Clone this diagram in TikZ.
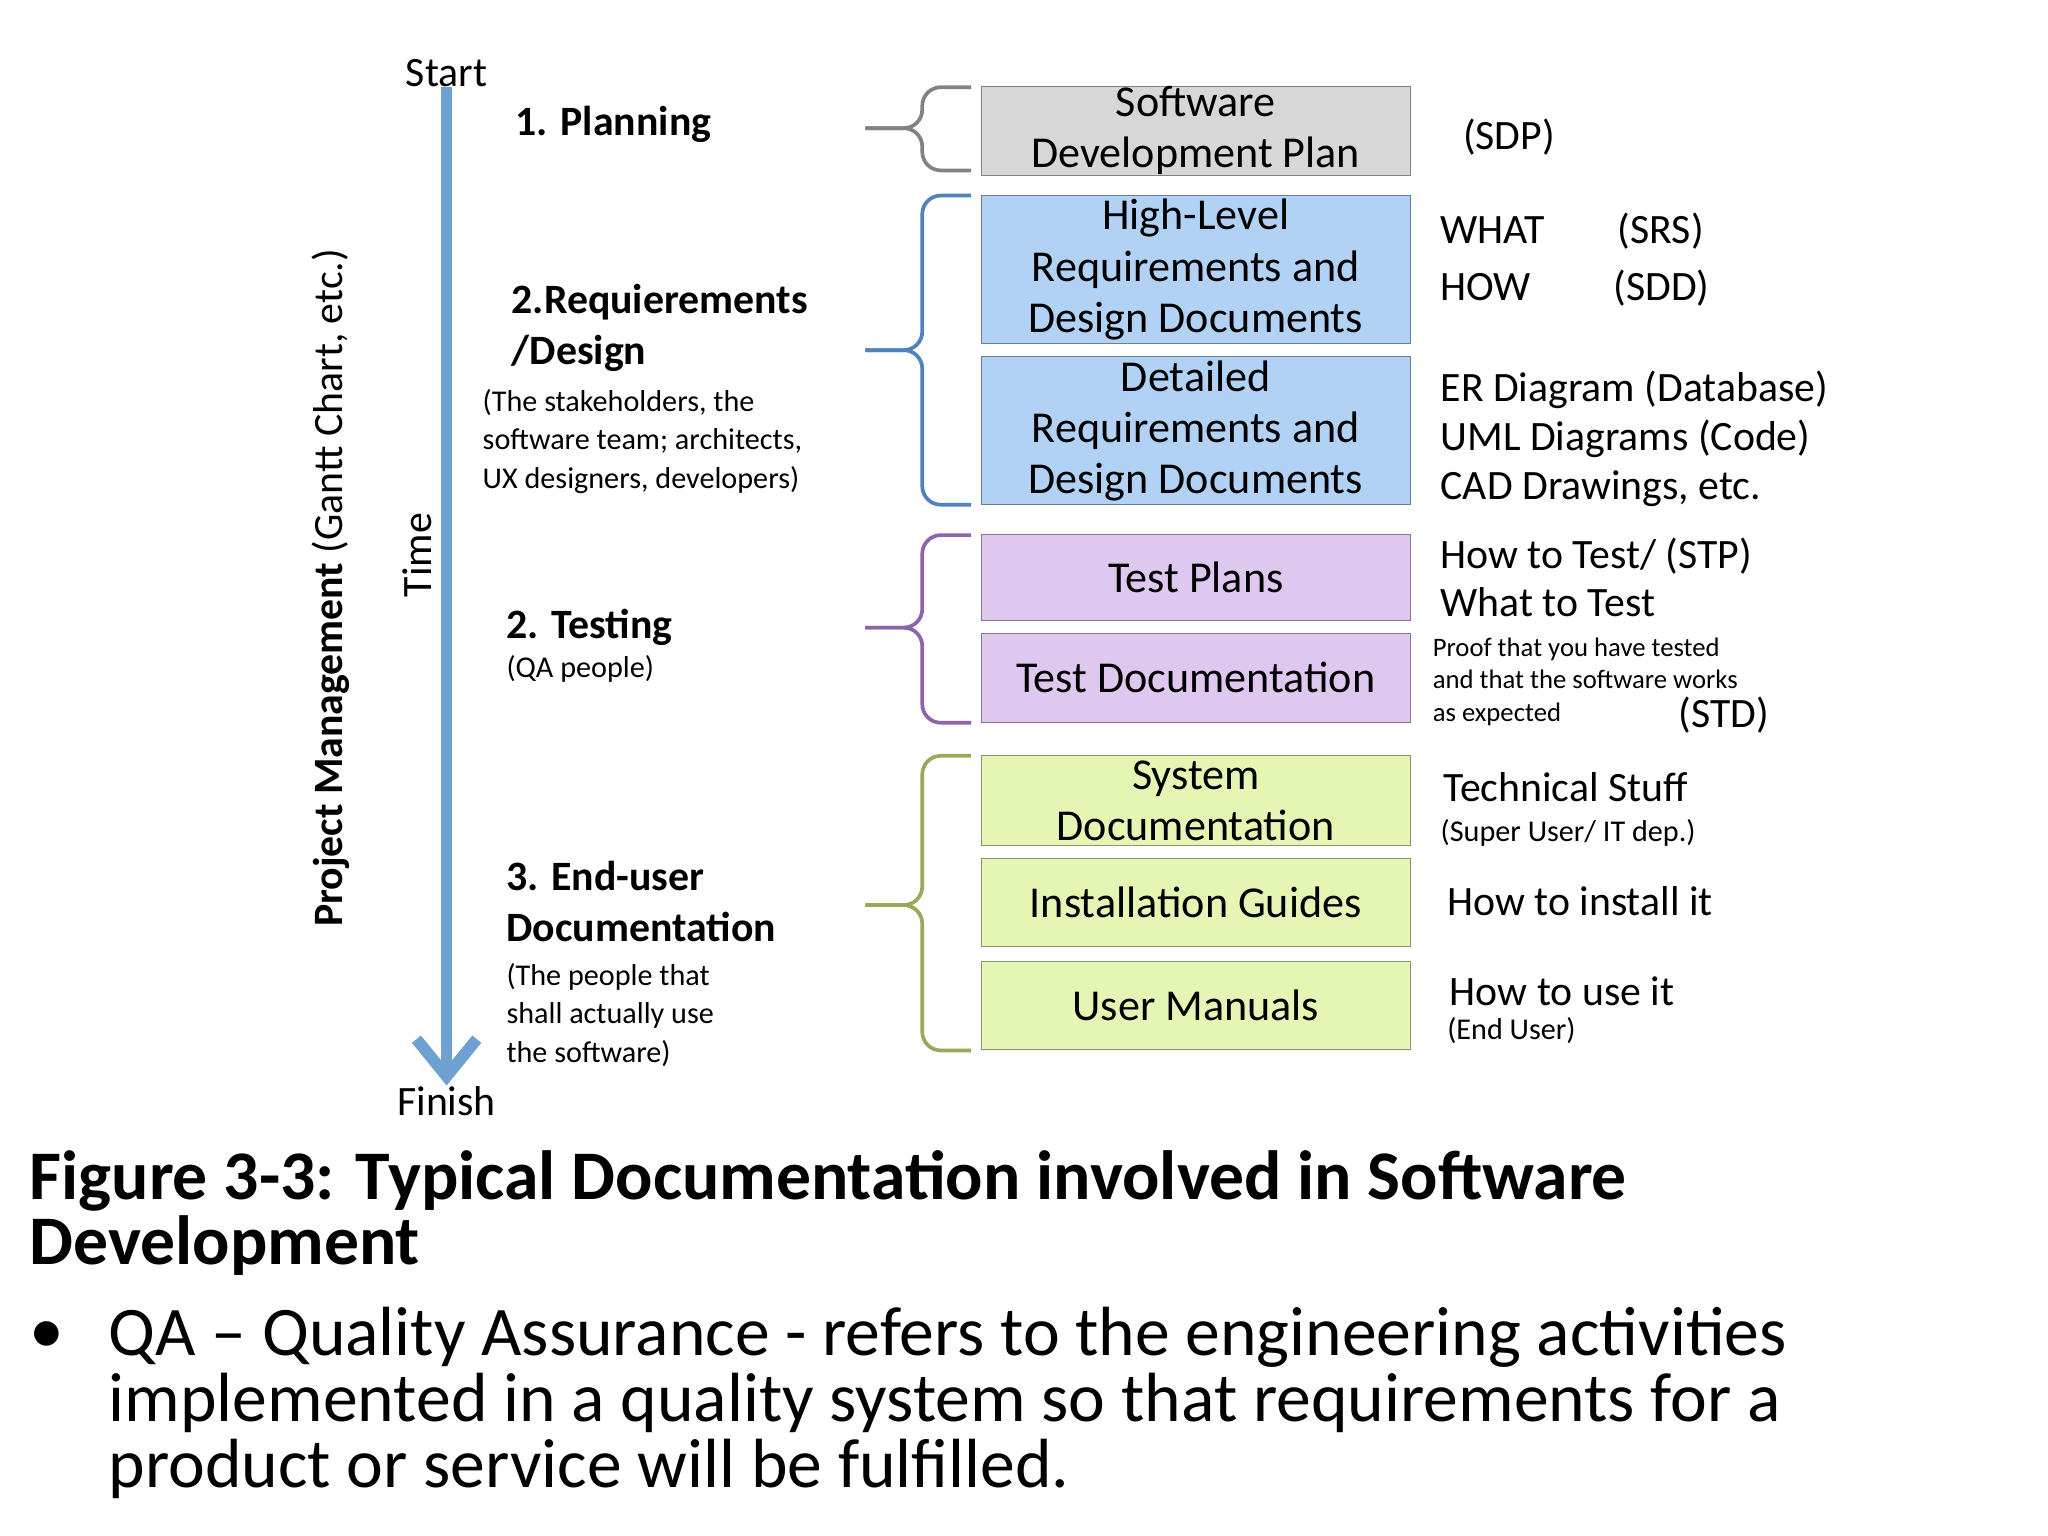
\documentclass[tikz,border=0pt]{standalone}
\usepackage{fontspec}
\setmainfont{Carlito}
\usepackage{tikz}
\usetikzlibrary{arrows.meta}

\definecolor{boxgray}{RGB}{215,215,215}
\definecolor{boxblue}{RGB}{178,210,245}
\definecolor{boxpurple}{RGB}{222,200,240}
\definecolor{boxgreen}{RGB}{228,245,180}
\definecolor{arrowblue}{RGB}{110,160,210}
\definecolor{brgray}{RGB}{130,130,130}
\definecolor{brblue}{RGB}{80,130,190}
\definecolor{brpurple}{RGB}{140,100,170}
\definecolor{brgreen}{RGB}{150,170,90}

\tikzset{
  doc/.style={draw=#1!60!black, fill=#1, minimum width=6.5cm, align=center,
    font=\fontsize{19}{22}\selectfont, inner sep=0pt},
  lbl/.style={anchor=west, font=\fontsize{18}{21}\selectfont, align=left, inner sep=0pt},
  phase/.style={lbl, font=\fontsize{18}{22}\selectfont\bfseries},
  small/.style={lbl, font=\fontsize{13}{16.5}\selectfont},
  brace/.style={line width=1.6pt, rounded corners=8pt, draw=#1}
}

\newcommand{\docbrace}[4]{% color, top, bottom, mid
  \draw[brace=#1] (735,#2) -- (698,#2) -- (698,#4) -- (655,#4);
  \draw[brace=#1] (735,#3) -- (698,#3) -- (698,#4) -- (655,#4);
}

\begin{document}
\begin{tikzpicture}[x=0.02cm, y=-0.02cm]
  \useasboundingbox (0,0) rectangle (1550,1162);

  % time axis
  \node[lbl, anchor=center] (start) at (338,55) {Start};
  \node[lbl, anchor=center] (finish) at (338,833) {Finish};
  \draw[arrowblue, line width=5pt, -{Straight Barb[length=16pt, width=26pt]}]
    (start.south) -- (finish.north);
  \node[lbl, anchor=center, rotate=90] (time) at (316,420) {Time};
  \node[lbl, anchor=center, rotate=90] (pm) at (250,445)
    {\textbf{Project Management} (Gantt Chart, etc.)};

  % documents
  \node[doc=boxgray, minimum height=1.34cm] (sdp) at (905,99) {Software\\Development Plan};
  \node[doc=boxblue, minimum height=2.24cm] (hl) at (905,204) {High-Level\\Requirements and\\Design Documents};
  \node[doc=boxblue, minimum height=2.24cm] (det) at (905,326) {Detailed\\Requirements and\\Design Documents};
  \node[doc=boxpurple, minimum height=1.3cm] (tp) at (905,437) {Test Plans};
  \node[doc=boxpurple, minimum height=1.34cm] (td) at (905,513) {Test Documentation};
  \node[doc=boxgreen, minimum height=1.36cm] (sys) at (905,606) {System\\Documentation};
  \node[doc=boxgreen, minimum height=1.32cm] (inst) at (905,683) {Installation Guides};
  \node[doc=boxgreen, minimum height=1.34cm] (um) at (905,761) {User Manuals};

  % braces
  \docbrace{brgray}{66}{129}{97}
  \docbrace{brblue}{148}{382}{265}
  \docbrace{brpurple}{405}{547}{475}
  \docbrace{brgreen}{572}{795}{685}

  % phases
  \node[phase] (plan) at (390,94) {1. Planning};
  \node[phase] (req) at (387,248) {2.Requierements\\/Design};
  \node[small] (reqppl) at (365,334) {(The stakeholders, the\\software team; architects,\\UX designers, developers)};
  \node[phase] (test) at (383,475) {2. Testing};
  \node[small] (testppl) at (383,506) {(QA people)};
  \node[phase] (end) at (383,682) {3. End-user\\Documentation};
  \node[small] (endppl) at (383,768) {(The people that\\shall actually use\\the software)};

  % notes
  \node[lbl] (sdpn) at (1107,104) {(SDP)};
  \node[lbl] (what) at (1090,175) {WHAT\hspace{1.1cm}(SRS)};
  \node[lbl] (how) at (1090,218) {HOW\hspace{1.25cm}(SDD)};
  \node[lbl] (detn) at (1090,332) {ER Diagram (Database)\\UML Diagrams (Code)\\CAD Drawings, etc.};
  \node[lbl] (stp) at (1090,437) {How to Test/ (STP)\\What to Test};
  \node[small, font=\fontsize{11.5}{14}\selectfont] (proof) at (1084,516) {Proof that you have tested\\and that the software works\\as expected};
  \node[lbl] (std) at (1270,541) {(STD)};
  \node[lbl] (tech) at (1092,596) {Technical Stuff};
  \node[small] (super) at (1090,630) {(Super User/ IT dep.)};
  \node[lbl] (install) at (1095,682) {How to install it};
  \node[lbl] (use) at (1097,750) {How to use it};
  \node[small] (enduser) at (1095,780) {(End User)};

  % caption
  \node[lbl, font=\fontsize{30}{28}\selectfont\bfseries] (cap) at (22,918)
    {Figure 3-3: Typical Documentation involved in Software\\Development};
  \node[lbl, font=\fontsize{30}{28}\selectfont] (bullet) at (22,1012) {•};
  \node[lbl, font=\fontsize{30}{28.5}\selectfont] (qa) at (82,1062)
    {QA – Quality Assurance - refers to the engineering activities\\implemented in a quality system so that requirements for a\\product or service will be fulfilled.};
\end{tikzpicture}
\end{document}
